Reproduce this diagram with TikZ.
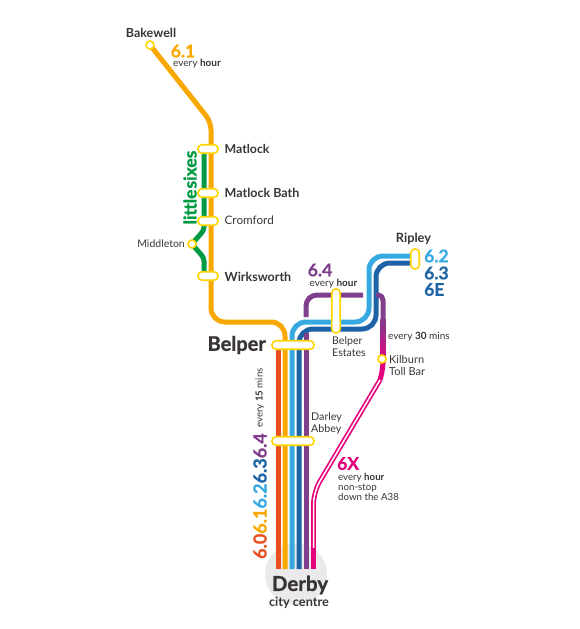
\documentclass[tikz,border=0pt]{standalone}
\usepackage{fontspec}
\setmainfont{Lato}
\newfontfamily\blk[FakeBold=0.6]{Lato Bold}
\newfontfamily\hvy[FakeBold=1.2]{Lato Bold}
\usetikzlibrary{backgrounds}
\definecolor{cOrange}{HTML}{F9A800}
\definecolor{cGreen}{HTML}{009A44}
\definecolor{cLight}{HTML}{36A9E1}
\definecolor{cDark}{HTML}{1D63A5}
\definecolor{cPurple}{HTML}{7F3F8C}
\definecolor{cMagenta}{HTML}{E5007E}
\definecolor{cRed}{HTML}{E9501E}
\definecolor{cYellow}{HTML}{FFD500}
\definecolor{cText}{HTML}{3A3535}
\definecolor{cGrey}{HTML}{EAEAEA}
\newcommand{\fs}[1]{\fontsize{#1}{12}\selectfont}
\newcommand{\fst}[1]{\fontsize{#1}{10.2}\selectfont}
\newcommand{\hb}[1]{\textbf{#1}}
\tikzset{
  route/.style={line width=5pt,line join=round},
  pillh/.style={draw=cYellow,fill=white,line width=1.6pt,rounded corners=4pt,minimum height=8.5pt,inner sep=0pt},
  pillv/.style={draw=cYellow,fill=white,line width=1.6pt,rounded corners=4pt,minimum width=8.5pt,inner sep=0pt},
  stop/.style={circle,draw=cYellow,fill=white,line width=1.6pt,minimum size=8pt,inner sep=0pt},
  lab/.style={text=cText,inner sep=0pt,align=left},
  num/.style={inner sep=0pt,font=\fs{17.5}\blk,align=left},
}
\begin{document}
\begin{tikzpicture}[x=1pt,y=-1pt]
\useasboundingbox (0,0) rectangle (580,629);
% stations
\node[stop] (bakewell) at (150,45) {};
\node[pillh,minimum width=20pt] (matlock) at (208,149) {};
\node[pillh,minimum width=20pt] (bath) at (208,193) {};
\node[pillh,minimum width=20pt] (cromford) at (208,221) {};
\node[stop] (middleton) at (192,244) {};
\node[pillh,minimum width=20pt] (wirksworth) at (208,276) {};
\node[pillh,minimum width=42pt] (belper) at (293,345) {};
\node[pillh,minimum width=42pt] (darley) at (293,441) {};
\node[pillv,minimum height=44pt] (estates) at (336,311) {};
\node[pillv,minimum height=20pt] (ripley) at (415,259) {};
\node[stop] (kilburn) at (382,359) {};
% waypoints
\coordinate (o1) at (211,122);\coordinate (o2) at (211,322);\coordinate (o3) at (285,322);\coordinate (oEnd) at (285,569);
\coordinate (g1) at (204,149);\coordinate (g3) at (204,276);\coordinate (g4) at (204,258);\coordinate (g5) at (204,230);
\coordinate (r1) at (278,345);\coordinate (rEnd) at (278,569);
\coordinate (l0) at (292,569);\coordinate (l1) at (292,322);\coordinate (l2) at (369,322);\coordinate (l3) at (369,256);\coordinate (l4) at (415,256);
\coordinate (d0) at (299,569);\coordinate (d1) at (299,329);\coordinate (d2) at (376,329);\coordinate (d3) at (376,263);\coordinate (d4) at (415,263);
\coordinate (p0) at (306,569);\coordinate (p1) at (306,333);\coordinate (p2) at (306,317);\coordinate (p3) at (306,295);\coordinate (p4) at (363,295);
\coordinate (p5) at (380,295);\coordinate (p6) at (383,295);\coordinate (p7) at (383,318);
\coordinate (m0) at (383,362);\coordinate (m1) at (383,369);\coordinate (m2) at (380,380);\coordinate (m3) at (313.5,492);\coordinate (m4) at (313.5,548);\coordinate (m5) at (313.5,569);
\begin{pgfonlayer}{background}
\fill[cGrey] (296,574) circle (31pt);
\draw[route,cRed] (r1) -- (rEnd);
\draw[route,cOrange,rounded corners=8pt] (bakewell.center) -- (o1) [rounded corners=14pt] -- (o2) -- (o3) -- (oEnd);
\draw[route,cGreen,rounded corners=3pt] (g1) -- (g5) -- (middleton.center) -- (g4) -- (g3);
\draw[route,cLight,rounded corners=14pt] (l0) -- (l1) -- (l2) -- (l3) -- (l4);
\draw[route,cDark,rounded corners=14pt] (d0) -- (d1) -- (d2) -- (d3) -- (d4);
\draw[route,cPurple] (p0) -- (p1);
\draw[route,cPurple,rounded corners=11pt] (p2) -- (p3) -- (p4);
\draw[route,cPurple,rounded corners=5pt] (p5) -- (p6) -- (p7);
\shade[top color=cPurple,bottom color=cMagenta,draw=none] (380.5,318) rectangle (385.5,362);
\draw[route,cMagenta,rounded corners=8pt] (m0) -- (m1) -- (m2);
\draw[line width=1.7pt,double=white,double distance=1.5pt,cMagenta,rounded corners=12pt] (m2) -- (m3) -- (m4);
\draw[route,cMagenta] (m4) -- (m5);
\end{pgfonlayer}
% labels
\node[lab,font=\fs{12.5}\bfseries] (tBakewell) at (151,33) {Bakewell};
\node[num,text=cOrange] (t61) at (183,51) {6.1};
\node[lab,font=\fs{10}] (tEvery1) at (197,64) {every \hb{hour}};
\node[lab,anchor=west,font=\fs{12.3}\bfseries] (tMatlock) at (224.5,148.5) {Matlock};
\node[lab,anchor=west,font=\fs{12.5}\bfseries] (tBath) at (224.5,193) {Matlock Bath};
\node[lab,anchor=west,font=\fs{11.7}] (tCromford) at (224.5,220.5) {Cromford};
\node[lab,anchor=west,font=\fs{12.5}\bfseries] (tWirks) at (224.5,276.5) {Wirksworth};
\node[lab,anchor=east,font=\fs{10.5}] (tMiddleton) at (185,244) {Middleton};
\node[inner sep=0pt,rotate=90,text=cGreen,font=\fs{17.5}\hvy] (tLittle) at (190,187.5) {little\hspace{1pt}sixes};
\node[lab,font=\fs{12.8}\bfseries] (tRipley) at (413.5,238.5) {Ripley};
\node[num,anchor=west,text=cLight] (t62) at (424,256) {6.2};
\node[num,anchor=west,text=cDark] (t63) at (424,273) {6.3};
\node[num,anchor=west,text=cDark] (t6E) at (424,289.5) {6E};
\node[num,text=cPurple] (t64) at (320,270) {6.4};
\node[lab,font=\fs{10}] (tEvery2) at (333.5,283.5) {every \hb{hour}};
\node[lab,anchor=west,font=\fs{10.6}] (tEstates) at (332,347) {Belper\\Estates};
\node[lab,anchor=west,font=\fs{10}] (t30) at (388,337) {every \hb{30} mins};
\node[lab,anchor=west,font=\fs{11}] (tKilburn) at (389,365) {Kilburn\\Toll Bar};
\node[lab,anchor=east,font=\fs{20}\hvy] (tBelper) at (266,345) {Belper};
\node[lab,anchor=west,font=\fs{10.7}] (tDarley) at (311,423) {Darley\\Abbey};
\node[inner sep=0pt,rotate=90,text=cText,font=\fs{9.7}] (t15) at (260,398) {every \hb{15} mins};
\node[inner sep=0pt,rotate=90,font=\fs{18}\blk] (tNums) at (260,496) {\textcolor{cRed}{6.0}\textcolor{cOrange}{6.1}\textcolor{cLight}{6.2}\textcolor{cDark}{6.3}\textcolor{cPurple}{6.4}};
\node[num,anchor=west,text=cMagenta] (t6X) at (337,463.5) {6X};
\node[lab,anchor=north west,font=\fst{9.7}] (tEvery3) at (338,473) {every \hb{hour}\\non-stop\\down the A38};
\node[lab,font=\fs{20.5}\hvy] (tDerby) at (300,585) {Derby};
\node[lab,font=\fs{12.7}\bfseries] (tCity) at (299,603) {city centre};
\end{tikzpicture}
\end{document}
